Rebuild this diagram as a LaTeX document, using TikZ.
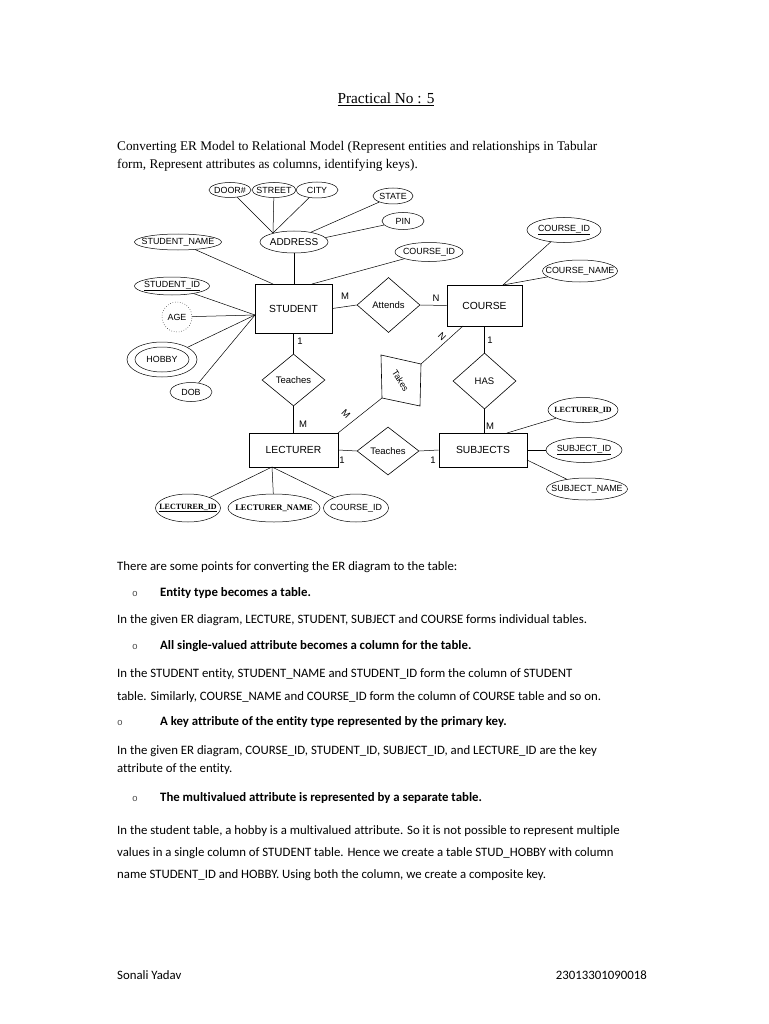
\documentclass[tikz,border=0pt]{standalone}
\usepackage{fontspec}
\setmainfont{Liberation Serif}
\newfontfamily\calfont[Ligatures=NoCommon]{Carlito}
\newfontfamily\arialf{Liberation Sans}
\newfontfamily\monof{Liberation Mono}
\usetikzlibrary{shapes.geometric}
\newcommand{\zw}[1]{\makebox[0pt][c]{#1}}
\begin{document}
\begin{tikzpicture}[x=1pt,y=-1pt,
  attr/.style={draw, ellipse, inner sep=0pt, line width=0.5pt, font=\arialf\fontsize{8.9}{9}\selectfont},
  battr/.style={attr, font=\bfseries\fontsize{8.5}{9}\selectfont},
  ent/.style={draw, rectangle, inner sep=0pt, line width=0.6pt, font=\arialf\fontsize{10.3}{11}\selectfont},
  rel/.style={draw, diamond, inner sep=0pt, line width=0.6pt, font=\arialf\fontsize{9.5}{10}\selectfont},
  card/.style={inner sep=0pt, font=\arialf\fontsize{9.5}{10}\selectfont},
  conn/.style={line width=0.5pt},
  body/.style={inner sep=0pt, anchor=base west, font=\calfont\fontsize{12.8}{14}\selectfont},
  bbody/.style={body, font=\calfont\bfseries\fontsize{12.8}{14}\selectfont},
  bul/.style={inner sep=0pt, anchor=base, text=black!70, font=\monof\fontsize{9.5}{10}\selectfont},
  serif/.style={inner sep=0pt, anchor=base west, font=\fontsize{13.25}{15}\selectfont}]
\useasboundingbox[fill=white] (0,0) rectangle (768,1024);

% ---- header ----
\node[inner sep=0pt, anchor=base, font=\fontsize{15.3}{17}\selectfont] (title) at (386,104) {\underline{Practical No : 5}};
\node[serif] (h1) at (117,151) {Converting ER Model to Relational Model (Represent entities and relationships in Tabular};
\node[serif] (h2) at (117,169) {form, Represent attributes as columns, identifying keys).};

% ---- entities ----
\node[ent, minimum width=77, minimum height=49] (student) at (293.5,308.5) {STUDENT};
\node[ent, minimum width=75, minimum height=41] (course) at (484.5,305.5) {COURSE};
\node[ent, minimum width=89, minimum height=34] (lecturer) at (293.5,450) {LECTURER};
\node[ent, minimum width=88, minimum height=34] (subjects) at (483,450) {SUBJECTS};

% ---- relationships ----
\node[rel, minimum width=63, minimum height=55] (attends) at (388.5,305) {\zw{Attends}};
\node[rel, minimum width=63, minimum height=56] (has) at (484.5,381) {\zw{HAS}};
\node[rel, minimum width=63, minimum height=52] (teachl) at (293.5,380) {\zw{Teaches}};
\node[rel, minimum width=62, minimum height=48] (teachr) at (388,451) {\zw{Teaches}};
\coordinate (tkA) at (381,355);
\coordinate (tkB) at (421,364);
\coordinate (tkC) at (420,406);
\coordinate (tkD) at (382,398);
\draw[line width=0.6pt] (tkA) -- (tkB) -- (tkC) -- (tkD) -- cycle;
\node[inner sep=0pt, rotate=-58, font=\arialf\fontsize{8.8}{9}\selectfont] (takes) at (400.5,381) {Takes};

% ---- attributes ----
\node[attr, minimum width=42, minimum height=15] (door) at (230,190) {\zw{DOOR\#}};
\node[attr, minimum width=44, minimum height=15] (street) at (274,190) {\zw{STREET}};
\node[attr, minimum width=42, minimum height=16] (city) at (317,190) {\zw{CITY}};
\node[attr, minimum width=40, minimum height=16] (state) at (393,196) {\zw{STATE}};
\node[attr, minimum width=42, minimum height=17] (pin) at (403,221) {\zw{PIN}};
\node[attr, minimum width=68, minimum height=22, font=\arialf\fontsize{10}{11}\selectfont] (address) at (294,242) {\zw{ADDRESS}};
\node[attr, minimum width=87, minimum height=16] (sname) at (178,242) {\zw{STUDENT\_NAME}};
\node[attr, minimum width=68, minimum height=19] (cid1) at (429,252) {\zw{COURSE\_ID}};
\node[attr, minimum width=74, minimum height=25] (cid2) at (564,230) {\zw{\underline{COURSE\_ID}}};
\node[attr, minimum width=75, minimum height=22] (cname) at (580,271) {\zw{COURSE\_NAME}};
\node[attr, minimum width=75, minimum height=18] (sid) at (172,286) {\zw{\underline{STUDENT\_ID}}};
\node[attr, dotted, minimum width=30, minimum height=30] (age) at (177,317) {\zw{AGE}};
\node[attr, minimum width=70, minimum height=35] (hobby) at (162,359.5) {};
\node[attr, minimum width=54, minimum height=25] (hobbyin) at (162,359.5) {\zw{HOBBY}};
\node[attr, minimum width=42, minimum height=19] (dob) at (191,392) {\zw{DOB}};
\node[battr, minimum width=70, minimum height=25, font=\bfseries\fontsize{8}{9}\selectfont] (lid) at (583,410) {\zw{LECTURER\_ID}};
\node[attr, minimum width=76, minimum height=25] (subid) at (584,450) {\zw{\underline{SUBJECT\_ID}}};
\node[attr, minimum width=81, minimum height=22] (subname) at (587,489) {\zw{SUBJECT\_NAME}};
\node[battr, minimum width=65, minimum height=28, font=\bfseries\fontsize{8}{9}\selectfont] (lid2) at (188,508) {\zw{\underline{LECTURER\_ID}}};
\node[battr, minimum width=92, minimum height=28] (lname) at (274,508) {\zw{LECTURER\_NAME}};
\node[attr, minimum width=65, minimum height=28] (cid3) at (356,508) {\zw{COURSE\_ID}};

% ---- connection points ----
\coordinate (atop) at (273,233);
\coordinate (stl) at (273,284);
\coordinate (str) at (312,284);
\coordinate (sw) at (255,315);
\coordinate (ctop) at (503,285);
\coordinate (cbot) at (463,326);
\coordinate (ltr) at (338,433);
\coordinate (lbot) at (272,467);
\coordinate (sbtop) at (507,433);
\coordinate (sbr) at (527,460);

% ---- connectors ----
\draw[conn] (door) -- (atop);
\draw[conn] (street) -- (atop);
\draw[conn] (city) -- (atop);
\draw[conn] (state) -- (address.30);
\draw[conn] (pin) -- (address.8);
\draw[conn] (address.south) -- (address.south |- student.north);
\draw[conn] (sname) -- (stl);
\draw[conn] (cid1) -- (str);
\draw[conn] (sid) -- (sw);
\draw[conn] (age) -- (sw);
\draw[conn] (hobby) -- (sw);
\draw[conn] (dob) -- (sw);
\draw[conn] (cid2) -- (ctop);
\draw[conn] (cname) -- (ctop);
\draw[conn] (student.east) -- (attends.west);
\draw[conn] (attends.east) -- (course.west);
\draw[conn] (course.south) -- (has.north);
\draw[conn] (has.south) -- (subjects.north -| has.south);
\draw[conn] (student.south) -- (teachl.north);
\draw[conn] (teachl.south) -- (lecturer.north);
\draw[conn] (cbot) -- (tkB);
\draw[conn] (tkD) -- (ltr);
\draw[conn] (lecturer.east) -- (teachr.west);
\draw[conn] (teachr.east) -- (subjects.west);
\draw[conn] (sbtop) -- (lid);
\draw[conn] (subjects.east) -- (subid);
\draw[conn] (sbr) -- (subname);
\draw[conn] (lbot) -- (lid2);
\draw[conn] (lbot) -- (lname);
\draw[conn] (lbot) -- (cid3);

% ---- cardinalities ----
\node[card] (c1) at (345,296) {M};
\node[card] (c2) at (436,298) {N};
\node[card] (c3) at (300,341) {1};
\node[card] (c4) at (490,340) {1};
\node[card] (c5) at (303,424) {M};
\node[card, rotate=-45] (c6) at (346,414) {M};
\node[card, rotate=-45] (c7) at (442,337) {N};
\node[card] (c8) at (342,460) {1};
\node[card] (c9) at (433,460) {1};
\node[card] (c10) at (490,426) {M};

% ---- body text ----
\node[body] (t1) at (117,570) {There are some points for converting the ER diagram to the table:};
\node[bul] (o1) at (135,596) {o};
\node[bbody] (b1) at (160,596) {Entity type becomes a table.};
\node[body] (t2) at (117,623) {In the given ER diagram, LECTURE, STUDENT, SUBJECT and COURSE forms individual tables.};
\node[bul] (o2) at (135,649) {o};
\node[bbody] (b2) at (160,649) {All single-valued attribute becomes a column for the table.};
\node[body] (t3) at (117,677) {In the STUDENT entity, STUDENT\_NAME and STUDENT\_ID form the column of STUDENT};
\node[body] (t4) at (117,700) {table. Similarly, COURSE\_NAME and COURSE\_ID form the column of COURSE table and so on.};
\node[bul] (o3) at (120,725) {o};
\node[bbody] (b3) at (160,725) {A key attribute of the entity type represented by the primary key.};
\node[body] (t5) at (117,754) {In the given ER diagram, COURSE\_ID, STUDENT\_ID, SUBJECT\_ID, and LECTURE\_ID are the key};
\node[body] (t6) at (117,772) {attribute of the entity.};
\node[bul] (o4) at (135,801) {o};
\node[bbody] (b4) at (160,801) {The multivalued attribute is represented by a separate table.};
\node[body] (t7) at (117,834) {In the student table, a hobby is a multivalued attribute. So it is not possible to represent multiple};
\node[body] (t8) at (117,856) {values in a single column of STUDENT table. Hence we create a table STUD\_HOBBY with column};
\node[body] (t9) at (117,878) {name STUDENT\_ID and HOBBY. Using both the column, we create a composite key.};

% ---- footer ----
\node[body] (f1) at (117,979) {Sonali Yadav};
\node[body, anchor=base east] (f2) at (647,979) {23013301090018};
\end{tikzpicture}
\end{document}
